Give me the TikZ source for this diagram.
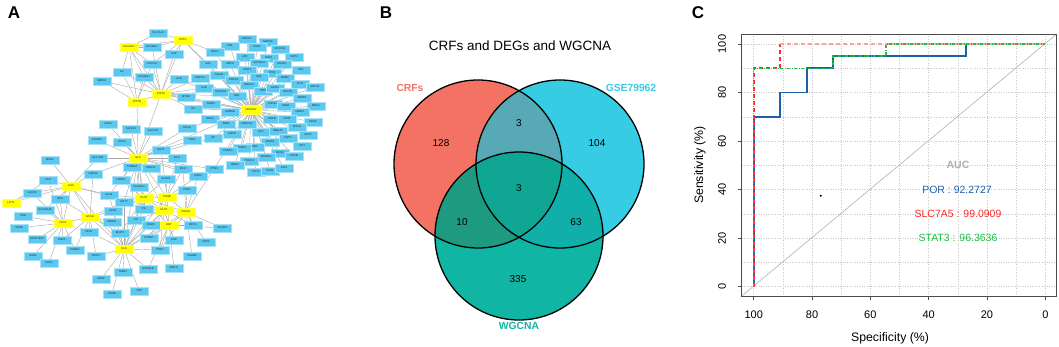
\documentclass[tikz,border=0pt]{standalone}
\usepackage{fontspec}
\setmainfont{Liberation Sans}
\definecolor{netblue}{HTML}{5BC8F0}
\definecolor{netyel}{HTML}{FFFF00}
\definecolor{vred}{HTML}{F47264}
\definecolor{vcyan}{HTML}{36CDE4}
\definecolor{vteal}{HTML}{10B5A3}
\definecolor{vrc}{HTML}{56A9B5}
\definecolor{vrt}{HTML}{1E9A80}
\definecolor{vct}{HTML}{10AFA9}
\definecolor{vrct}{HTML}{0FA693}
\definecolor{rocblue}{HTML}{1F5FAA}
\definecolor{rocred}{HTML}{FF2A2A}
\definecolor{rocgreen}{HTML}{18C040}
\pgfdeclarelayer{bg}
\pgfsetlayers{bg,main}
\tikzset{
  bn/.style={fill=netblue, draw=netblue!55!white, line width=0.3pt, minimum width=18.5pt, minimum height=8.3pt, inner sep=0pt, font=\fontsize{2.7}{3}\selectfont, text=black!85},
  yn/.style={bn, fill=netyel, draw=netyel!70!white},
  edge/.style={draw=gray!70, line width=0.4pt},
  panel/.style={font=\fontsize{17}{19}\selectfont\bfseries, anchor=center},
  vnum/.style={font=\fontsize{10}{12}\selectfont},
  vcat/.style={font=\fontsize{10.3}{12}\selectfont\bfseries},
  grid/.style={draw=gray!45, line width=0.45pt, dash pattern=on 0.8pt off 1.6pt},
  tick/.style={font=\fontsize{11}{13}\selectfont},
}
\begin{document}
\begin{tikzpicture}[x=1pt,y=-1pt]
\useasboundingbox (0,0) rectangle (1059,347);
% ---------------- Panel A ----------------
\node[panel] (LA) at (14,13) {A};
\foreach \n/\x/\y in {MAPK1/247/39, MAPK8/268/42, PML/230/46, CDH1/257/47, CDC25A/280/49,
  RELA/215/52, ATR/245/57, BAP1/269/58, SIRT2/294/57, JUN/208/64, ARPS/230/64, SUV39H1/259/63,
  KEAP1/282/64, STAT3/247/70, TP53/272/73, SP1/301/70, TGFB1/219/75, MAT2A/234/80, SRC/259/77,
  MDM2/285/78, ALB/179/79, MAPK3/200/78, NFE2L2/249/85, FLT3/300/84, SOCS1/315/87, IL1B/204/88,
  PRKAA1/221/92, TERT/263/91, GATA1/275/88, BECN1/288/92, MTOR/186/97, NR1/237/96, CREB1/302/98,
  FABP1/211/104, PIK3CA/273/104, EGR1/286/106, MUC1/316/106, IL6/193/109, KDM5B/230/112,
  UHRF1/300/112, NRAS/210/119, EGFR/272/119, CD44/287/119, KRAS/313/122, ZEB1/226/124,
  MAPK14/247/124, MYCN/297/127, HIF1A/187/128, NF2/261/132, HMGA2/278/131, SIRT6/232/134,
  SOX2/308/135, AR/213/138, THG1/192/140, SIRT1/288/138, VEGFA/270/142, UBC/255/147, HIC1/302/146,
  PPARA/242/148, PPARG/228/151, NOS3/280/153, ncRNA/294/156, CDKN1A/266/157, YTHDF1/249/161,
  BRD4/235/165, PTEN/214/169, PICT3/256/172, EZH2/270/171, YAP1/284/168,
  SLC7A14/158/33, SLC38A7/152/47, VCP/174/54, SLC7A2/152/64, LIF/122/72, SLC43A1/144/77,
  SMPD1/102/81, ASNS/108/124, SLC1A5/131/129, SLC7A5/153/131, SLC3A2/97/140, GCLC/122/142,
  GOT1/161/150, SLC7A11/98/158, IDH1/177/158, MSH2/50/160, TXNRD1/132/167, PRDX1/151/168,
  IDH2/183/169, HSPA5/93/174, SIRT3/198/176, FXN/48/180, LONP1/121/180, ALDH2/166/179,
  SLC25A1/139/187, PDK2/187/190, GLRX5/32/193, GLS2/109/195, ISCU/60/199, GPT2/124/202,
  SLC25A28/45/210, ACO1/113/211, PC/144/209, POR/23/216, CS/136/220, IMPDH/112/222,
  ENO3/151/225, MPC1/193/225, SDHB/19/228, ACAD9/222/228, NFS1/89/232, BCAT2/120/233,
  PPARD/149/238, HSD17B10/37/239, AHCY/62/240, PGD/174/240, CISD1/206/242, PDK4/160/250,
  PHMD2/75/250, PSAT1/96/256, NOS2/33/256, PGAM5/192/256, SCP2/49/263, ACADSB/148/269,
  ARNTL/174/268, SNAI2/123/272, ENO2/101/279, TXN/139/291, PAHB/112/294}
  \node[bn] (\n) at (\x,\y) {\n};
\foreach \n/\x/\y in {MTF1/183/40, SLC31A1/129/47, ATP7A/161/94, ATP7B/137/102, GLS/138/158,
  LIAS/71/186, PDHB/167/197, DLST/144/198, LIPT1/11/203, DLAT/164/210, PDHA1/186/212,
  GCSH/90/217, FDX1/63/223, DBT/169/225, DLD/124/249}
  \node[yn] (\n) at (\x,\y) {\n};
\node[yn, minimum width=19.5pt, minimum height=9pt] (CDKN2A) at (251,110) {CDKN2A};
\begin{pgfonlayer}{bg}
\foreach \b in {MAPK1, MAPK8, PML, CDH1, CDC25A, RELA, ATR, BAP1, SIRT2, JUN, ARPS, SUV39H1,
  KEAP1, STAT3, TP53, SP1, TGFB1, MAT2A, SRC, MDM2, MAPK3, NFE2L2, FLT3, SOCS1, IL1B, PRKAA1,
  TERT, GATA1, BECN1, MTOR, NR1, CREB1, FABP1, PIK3CA, EGR1, MUC1, IL6, KDM5B, UHRF1, NRAS,
  EGFR, CD44, KRAS, ZEB1, MAPK14, MYCN, HIF1A, NF2, HMGA2, SIRT6, SOX2, AR, SIRT1, VEGFA, UBC,
  HIC1, PPARA, PPARG, NOS3, ncRNA, CDKN1A, YTHDF1, BRD4, PTEN, PICT3, EZH2, YAP1, ALB, MTF1,
  ATP7A, GLS}
  \draw[edge] (CDKN2A.center) -- (\b.center);
\foreach \a/\b in {ATP7A/SLC31A1, ATP7A/SLC7A2, ATP7A/VCP, ATP7A/ALB, ATP7A/MAPK3, ATP7A/IL1B,
  ATP7A/MTOR, ATP7A/SLC43A1, ATP7A/LIF, ATP7A/SMPD1, ATP7A/ATP7B, ATP7A/PRKAA1, ATP7A/NR1,
  ATP7A/MTF1, ATP7A/SLC38A7, ATP7A/IL6, ATP7A/GLS, ATP7A/FABP1,
  MTF1/SLC7A14, MTF1/SLC38A7, MTF1/VCP, MTF1/SLC7A2, MTF1/RELA, MTF1/JUN, MTF1/SLC31A1,
  SLC31A1/SLC38A7, SLC31A1/SLC7A2, SLC31A1/SLC43A1, SLC31A1/LIF, SLC31A1/ATP7B, SLC31A1/SLC7A14,
  ATP7B/LIF, ATP7B/SLC43A1, ATP7B/SMPD1, ATP7B/GLS, ATP7B/SLC7A2,
  GLS/ASNS, GLS/SLC1A5, GLS/SLC7A5, GLS/SLC3A2, GLS/GCLC, GLS/GOT1, GLS/SLC7A11, GLS/IDH1,
  GLS/TXNRD1, GLS/PRDX1, GLS/IDH2, GLS/HSPA5, GLS/LONP1, GLS/ALDH2, GLS/SLC25A1, GLS/GLS2,
  GLS/GPT2, GLS/DLST, GLS/PDHB, GLS/PC, GLS/DLAT, GLS/HIF1A, GLS/THG1, GLS/AR, GLS/SIRT3,
  GLS/PTEN, GLS/CS, GLS/DLD,
  LIAS/MSH2, LIAS/FXN, LIAS/GLRX5, LIAS/ISCU, LIAS/SLC25A28, LIAS/HSPA5, LIAS/GCSH, LIAS/FDX1,
  LIAS/LIPT1, LIAS/SLC7A11, LIAS/GLS2, LIAS/DLD, LIAS/DLAT, LIPT1/GLRX5, LIPT1/FXN,
  FDX1/POR, FDX1/SLC25A28, FDX1/ISCU, FDX1/SDHB, FDX1/HSD17B10, FDX1/AHCY, FDX1/NOS2, FDX1/SCP2,
  FDX1/GCSH, FDX1/FXN, FDX1/GLRX5, FDX1/PHMD2,
  GCSH/NFS1, GCSH/PHMD2, GCSH/PSAT1, GCSH/AHCY, GCSH/ACO1, GCSH/IMPDH, GCSH/GPT2, GCSH/DLD,
  GCSH/BCAT2, GCSH/HSPA5, GCSH/ISCU,
  DLD/BCAT2, DLD/NFS1, DLD/SNAI2, DLD/ENO2, DLD/PAHB, DLD/TXN, DLD/ACADSB, DLD/CS, DLD/ENO3,
  DLD/PC, DLD/GLS2, DLD/PDK4, DLD/DLAT, DLD/PDHB, DLD/DLST, DLD/PDHA1, DLD/DBT, DLD/IMPDH,
  DLD/ACO1, DLD/PSAT1, DLD/GPT2,
  DLST/LONP1, DLST/SLC25A1, DLST/GPT2, DLST/PC, DLST/CS, DLST/GLS2, DLST/ALDH2, DLST/DLAT,
  DLST/PDHB, DLST/DBT, DLST/PDHA1, DLST/BCAT2, DLST/ACO1,
  PDHB/ALDH2, PDHB/PDK2, PDHB/SIRT3, PDHB/PDHA1, PDHB/DLAT, PDHB/DBT, PDHB/IDH2, PDHB/IDH1, PDHB/GOT1,
  DLAT/PC, DLAT/CS, DLAT/ENO3, DLAT/PPARD, DLAT/PDHA1, DLAT/DBT, DLAT/PGD, DLAT/MPC1, DLAT/PDK4,
  PDHA1/PDK2, PDHA1/SIRT3, PDHA1/MPC1, PDHA1/CISD1, PDHA1/ACAD9, PDHA1/PGAM5, PDHA1/IDH2,
  PDHA1/PTEN, PDHA1/PDK4, PDHA1/DBT,
  DBT/PGD, DBT/PDK4, DBT/ARNTL, DBT/PPARD, DBT/ENO3, DBT/MPC1, DBT/ACADSB, DBT/ACAD9}
  \draw[edge] (\a.center) -- (\b.center);
\end{pgfonlayer}
% ---------------- Panel B ----------------
\node[panel] (LB) at (386,13) {B};
\node[font=\fontsize{13.5}{15}\selectfont] (TB) at (520,46) {CRFs and DEGs and WGCNA};
\coordinate (cR) at (478,164);
\coordinate (cC) at (560,164);
\coordinate (cW) at (519,236);
\def\vr{84}
\fill[vred] (cR) circle[radius=\vr];
\fill[vcyan] (cC) circle[radius=\vr];
\fill[vteal] (cW) circle[radius=\vr];
\begin{scope}
  \clip (cR) circle[radius=\vr];
  \fill[vrc] (cC) circle[radius=\vr];
  \fill[vrt] (cW) circle[radius=\vr];
\end{scope}
\begin{scope}
  \clip (cC) circle[radius=\vr];
  \fill[vct] (cW) circle[radius=\vr];
\end{scope}
\begin{scope}
  \clip (cR) circle[radius=\vr];
  \clip (cC) circle[radius=\vr];
  \fill[vrct] (cW) circle[radius=\vr];
\end{scope}
\draw[line width=1.3pt] (cR) circle[radius=\vr];
\draw[line width=1.3pt] (cC) circle[radius=\vr];
\draw[line width=1.3pt] (cW) circle[radius=\vr];
\node[vcat, text=vred] (catR) at (410,88) {CRFs};
\node[vcat, text=vcyan] (catC) at (631,88) {GSE79962};
\node[vcat, text=vteal] (catW) at (519,326) {WGCNA};
\node[vnum] (n128) at (441,143) {128};
\node[vnum] (n3a) at (519,123) {3};
\node[vnum] (n104) at (597,143) {104};
\node[vnum] (n3b) at (519,188) {3};
\node[vnum] (n10) at (462,222) {10};
\node[vnum] (n63) at (576,222) {63};
\node[vnum] (n335) at (518,279) {335};
% ---------------- Panel C ----------------
\node[panel] (LC) at (698,13) {C};
\foreach \s in {0,10,...,100} {
  \draw[grid] ({1045.3-\s*2.916},34) -- ({1045.3-\s*2.916},296);
  \draw[grid] (741.7,{286.7-\s*2.427}) -- (1056.7,{286.7-\s*2.427});
}
\draw[gray!55, line width=0.7pt] (741.7,296) -- (1056.7,34);
\begin{scope}[shift={(1045.3pt,-286.7pt)}, x=-2.916pt, y=2.427pt, line join=miter]
  \draw[rocblue, line width=1.7pt] (100,0) -- (100,70) -- (90.91,70) -- (90.91,80) -- (81.82,80) -- (81.82,90) -- (72.73,90) -- (72.73,95) -- (27.27,95) -- (27.27,100) -- (0,100);
  \draw[rocred, line width=1.6pt, dash pattern=on 4pt off 3pt] (100,0) -- (100,90) -- (90.91,90) -- (90.91,100);
  \draw[rocred!45, line width=1.4pt, dash pattern=on 4pt off 3pt] (90.91,100) -- (0,100);
  \draw[rocgreen, line width=1.5pt, dash pattern=on 3pt off 1.5pt on 1pt off 1.5pt] (100,0) -- (100,90) -- (72.73,90) -- (72.73,95) -- (54.55,95) -- (54.55,100) -- (0,100);
\end{scope}
\draw[black!70, line width=0.8pt] (741.7,34) rectangle (1056.7,296);
\foreach \s in {0,20,...,100} {
  \draw[black!70, line width=0.7pt] ({1045.3-\s*2.916},296) -- ({1045.3-\s*2.916},300);
  \node[tick] at ({1045.3-\s*2.916},315) {\s};
  \draw[black!70, line width=0.7pt] (741.7,{286.7-\s*2.427}) -- (737.7,{286.7-\s*2.427});
  \node[tick, rotate=90] at (722,{286.7-\s*2.427}) {\s};
}
\node[font=\fontsize{12.3}{14}\selectfont] (xlab) at (890,338) {Specificity (\%)};
\node[font=\fontsize{12.3}{14}\selectfont, rotate=90] (ylab) at (700,165) {Sensitivity (\%)};
\node[font=\fontsize{10.5}{12}\selectfont\bfseries, text=gray!65] (auc) at (958,165) {AUC};
\node[font=\fontsize{10.5}{12}\selectfont, text=rocblue] (aucP) at (957,190) {POR : 92.2727};
\node[font=\fontsize{10.5}{12}\selectfont, text=rocred] (aucS) at (958,214) {SLC7A5 : 99.0909};
\node[font=\fontsize{10.5}{12}\selectfont, text=rocgreen] (aucT) at (958,238) {STAT3 : 96.3636};
\fill[black] (820.7,195.7) circle[radius=1.1];
\end{tikzpicture}
\end{document}
